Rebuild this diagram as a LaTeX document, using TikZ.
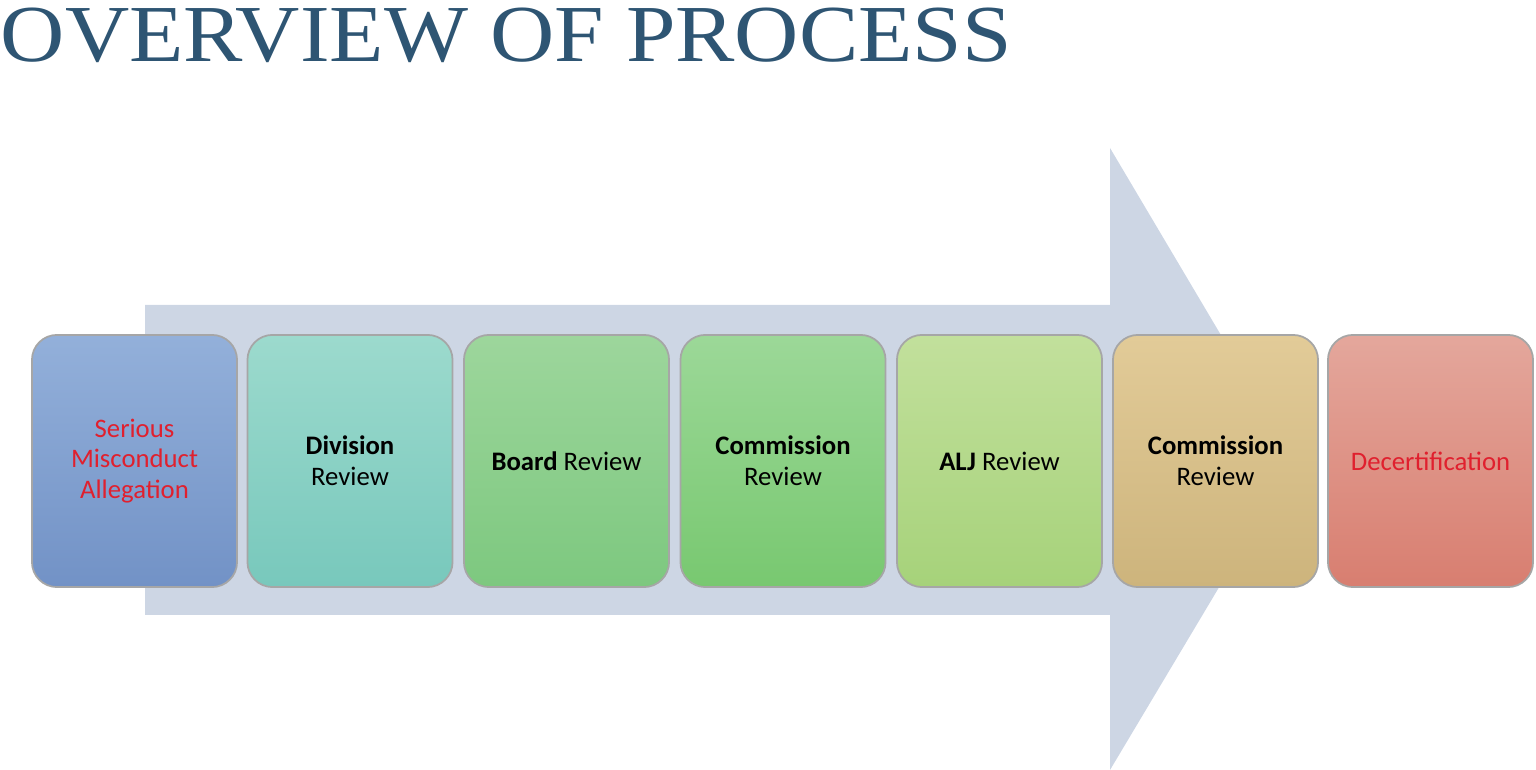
\documentclass[tikz,border=0pt]{standalone}
\usepackage{fontspec}
\setmainfont{Carlito}
\newfontfamily\titlefont{Liberation Serif}
\definecolor{ttl}{HTML}{2E5573}
\definecolor{arr}{HTML}{CDD6E4}
\definecolor{redtxt}{HTML}{E0202E}
\definecolor{aT}{HTML}{93B0DA}\definecolor{aB}{HTML}{7292C6}
\definecolor{bT}{HTML}{9CDACD}\definecolor{bB}{HTML}{78C8BC}
\definecolor{cT}{HTML}{9DD69C}\definecolor{cB}{HTML}{7DC87F}
\definecolor{dT}{HTML}{9CD898}\definecolor{dB}{HTML}{78C870}
\definecolor{eT}{HTML}{C2E09C}\definecolor{eB}{HTML}{A6D27A}
\definecolor{fT}{HTML}{E2CB98}\definecolor{fB}{HTML}{CDB47C}
\definecolor{gT}{HTML}{E4A79C}\definecolor{gB}{HTML}{D87E70}
\begin{document}
\begin{tikzpicture}[x=0.01cm,y=0.01cm,
  box/.style={draw=gray!70, line width=0.5pt, rounded corners=0.25cm, minimum width=2.05cm, minimum height=2.52cm, inner sep=1pt, align=center, font=\fontsize{7.6pt}{8.7pt}\selectfont}]
\useasboundingbox (0,0) rectangle (1536,770);
\node[anchor=base west, inner sep=0, text=ttl, font=\titlefont\fontsize{23pt}{26pt}\selectfont, xscale=1.1] (title) at (0,708) {OVERVIEW OF PROCESS};
\fill[arr] (145,465) -- (1110,465) -- (1110,622) -- (1295,310) -- (1110,0) -- (1110,155) -- (145,155) -- cycle;
\node[box, top color=aT, bottom color=aB, text=redtxt] (b1) at (134.5,309) {Serious\\Misconduct\\Allegation};
\node[box, top color=bT, bottom color=bB] (b2) at (350,309) {\textbf{Division}\\Review};
\node[box, top color=cT, bottom color=cB] (b3) at (566.5,309) {\textbf{Board} Review};
\node[box, top color=dT, bottom color=dB] (b4) at (783,309) {\textbf{Commission}\\Review};
\node[box, top color=eT, bottom color=eB] (b5) at (999.5,309) {\textbf{ALJ} Review};
\node[box, top color=fT, bottom color=fB] (b6) at (1215.5,309) {\textbf{Commission}\\Review};
\node[box, top color=gT, bottom color=gB, text=redtxt] (b7) at (1430.5,309) {Decertification};
\end{tikzpicture}
\end{document}
